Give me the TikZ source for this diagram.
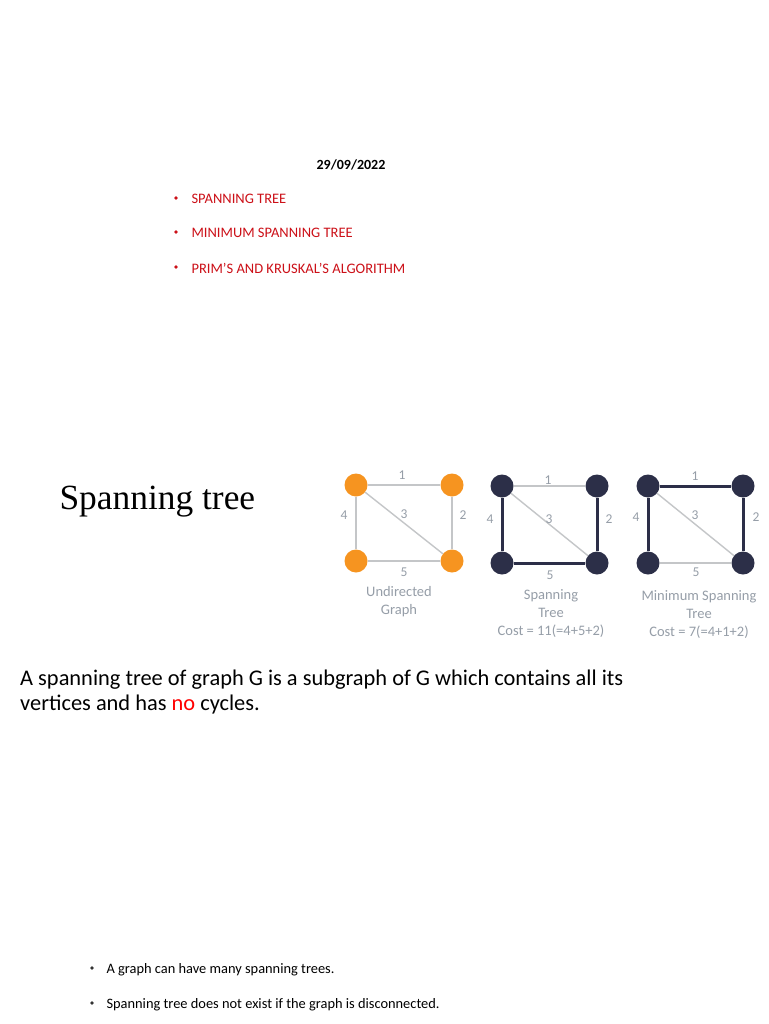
\documentclass[tikz,border=0pt]{standalone}
\usepackage{fontspec}
\setmainfont{Carlito}
\newfontfamily\titlefont{Liberation Serif}
\usepackage{xcolor}
\usetikzlibrary{positioning}
\definecolor{stred}{RGB}{204,16,24}
\definecolor{storange}{RGB}{246,148,32}
\definecolor{stnavy}{RGB}{44,47,72}
\definecolor{stedge}{RGB}{196,198,200}
\definecolor{stlabel}{RGB}{150,158,168}
\tikzset{
  vorange/.style={circle, fill=storange, minimum size=23pt, inner sep=0pt},
  vnavy/.style={circle, fill=stnavy, minimum size=23pt, inner sep=0pt},
  thinedge/.style={draw=stedge, line width=1.4pt},
  treeedge/.style={draw=stnavy, line width=3pt},
  wlabel/.style={text=stlabel, font=\fontsize{13.5}{15}\selectfont, inner sep=1pt},
  caption/.style={text=stlabel, font=\fontsize{14.5}{18}\selectfont, align=center},
  redbullet/.style={anchor=west, text=stred, font=\fontsize{14.5}{17}\selectfont},
  bodytext/.style={anchor=west, font=\fontsize{14.4}{17}\selectfont}
}

\begin{document}
\begin{tikzpicture}[x=1pt, y=-1pt]
\useasboundingbox[fill=white] (0,0) rectangle (768,1024);
% header
\node[font=\bfseries\fontsize{14}{16}\selectfont] (date) at (351,165) {29/09/2022};
\node[redbullet] (topA) at (188,199) {SPANNING TREE};
\node[redbullet] (topB) at (188,233) {MINIMUM SPANNING TREE};
\node[redbullet] (topC) at (188,268) {PRIM’S AND KRUSKAL’S ALGORITHM};
\foreach \yy in {198,232,267}
  \fill[stred] (176,\yy) circle (1.8pt);
\node[anchor=west, font=\titlefont\fontsize{35.4}{38}\selectfont] (title) at (56,502) {Spanning tree};
% undirected graph
\node[vorange] (ua) at (356,485) {};
\node[vorange] (ub) at (452,485) {};
\node[vorange] (uc) at (356,561) {};
\node[vorange] (ud) at (452,561) {};
\draw[thinedge] (ua) -- (ub);
\draw[thinedge] (ub) -- (ud);
\draw[thinedge] (ua) -- (uc);
\draw[thinedge] (uc) -- (ud);
\draw[thinedge] (ua) -- (ud);
\node[wlabel] at (402,475) {1};
\node[wlabel] at (344,515) {4};
\node[wlabel] at (404,514) {3};
\node[wlabel] at (463,515) {2};
\node[wlabel] at (404,572) {5};
\node[caption] (ucap) at (399,602) {Undirected\\Graph};
% spanning tree
\node[vnavy] (sa) at (502,486) {};
\node[vnavy] (sb) at (597,486) {};
\node[vnavy] (sc) at (502,563) {};
\node[vnavy] (sd) at (597,563) {};
\draw[thinedge] (sa) -- (sb);
\draw[thinedge] (sa) -- (sd);
\draw[treeedge] (sa) -- (sc);
\draw[treeedge] (sc) -- (sd);
\draw[treeedge] (sb) -- (sd);
\node[wlabel] at (548,480) {1};
\node[wlabel] at (490,519) {4};
\node[wlabel] at (549,519) {3};
\node[wlabel] at (609,519) {2};
\node[wlabel] at (550,575) {5};
\node[caption] (scap) at (551,614) {Spanning\\Tree\\Cost = 11(=4+5+2)};
% minimum spanning tree
\node[vnavy] (ma) at (648,486) {};
\node[vnavy] (mb) at (743,486) {};
\node[vnavy] (mc) at (648,563) {};
\node[vnavy] (md) at (743,563) {};
\draw[thinedge] (ma) -- (md);
\draw[thinedge] (mc) -- (md);
\draw[treeedge] (ma) -- (mb);
\draw[treeedge] (ma) -- (mc);
\draw[treeedge] (mb) -- (md);
\node[wlabel] at (695,476) {1};
\node[wlabel] at (636,517) {4};
\node[wlabel] at (695,515) {3};
\node[wlabel] at (756,517) {2};
\node[wlabel] at (696,572) {5};
\node[caption] (mcap) at (699,615) {Minimum Spanning\\Tree\\Cost = 7(=4+1+2)};
% definition
\node[anchor=west, align=left, inner sep=0pt, font=\fontsize{22.4}{25}\selectfont] (defn) at (20,692)
  {A spanning tree of graph G is a subgraph of G which contains all its\\vertices and has \textcolor{red}{no} cycles.};
% bottom notes
\node[bodytext] (noteA) at (103,970) {A graph can have many spanning trees.};
\node[bodytext] (noteB) at (103,1005) {Spanning tree does not exist if the graph is disconnected.};
\foreach \yy in {968,1003}
  \fill[black!80] (92,\yy) circle (1.8pt);
\end{tikzpicture}
\end{document}
